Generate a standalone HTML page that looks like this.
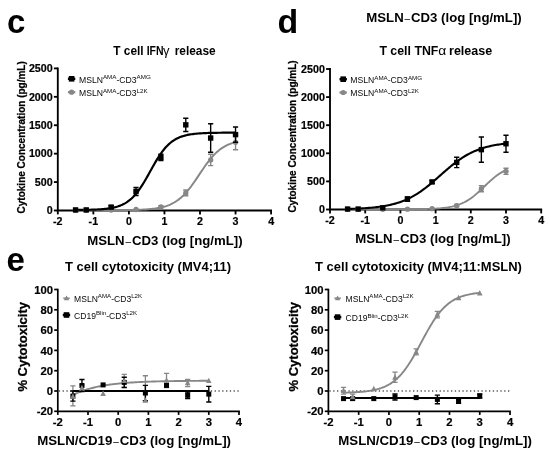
<!DOCTYPE html>
<html><head><meta charset="utf-8"><title>Figure</title>
<style>html,body{margin:0;padding:0;background:#fff}svg{display:block}text{font-family:"Liberation Sans",sans-serif}</style></head>
<body>
<svg width="550" height="454" viewBox="0 0 550 454">
<rect width="550" height="454" fill="#fff"/>
<text x="6.9" y="33.4" font-size="33" font-weight="bold" >c</text>
<text transform="translate(277.5,33.4) scale(1.04,1)" font-size="32.6" font-weight="bold" >d</text>
<text x="6.4" y="271.2" font-size="33" font-weight="bold" >e</text>
<path d="M57.80 68.40V210.50H271.10" stroke="#000" stroke-width="1.85" fill="none" stroke-linecap="square"/>
<path d="M57.80 210.50v3.90" stroke="#000" stroke-width="1.85"/>
<text transform="translate(57.80,224.50) scale(1,1.000)" text-anchor="middle" font-size="10.70" font-weight="bold" stroke="#000" stroke-width="0.2" >-2</text>
<path d="M93.35 210.50v3.90" stroke="#000" stroke-width="1.85"/>
<text transform="translate(93.35,224.50) scale(1,1.000)" text-anchor="middle" font-size="10.70" font-weight="bold" stroke="#000" stroke-width="0.2" >-1</text>
<path d="M128.90 210.50v3.90" stroke="#000" stroke-width="1.85"/>
<text transform="translate(128.90,224.50) scale(1,1.000)" text-anchor="middle" font-size="10.70" font-weight="bold" stroke="#000" stroke-width="0.2" >0</text>
<path d="M164.45 210.50v3.90" stroke="#000" stroke-width="1.85"/>
<text transform="translate(164.45,224.50) scale(1,1.000)" text-anchor="middle" font-size="10.70" font-weight="bold" stroke="#000" stroke-width="0.2" >1</text>
<path d="M200.00 210.50v3.90" stroke="#000" stroke-width="1.85"/>
<text transform="translate(200.00,224.50) scale(1,1.000)" text-anchor="middle" font-size="10.70" font-weight="bold" stroke="#000" stroke-width="0.2" >2</text>
<path d="M235.55 210.50v3.90" stroke="#000" stroke-width="1.85"/>
<text transform="translate(235.55,224.50) scale(1,1.000)" text-anchor="middle" font-size="10.70" font-weight="bold" stroke="#000" stroke-width="0.2" >3</text>
<path d="M271.10 210.50v3.90" stroke="#000" stroke-width="1.85"/>
<text transform="translate(271.10,224.50) scale(1,1.000)" text-anchor="middle" font-size="10.70" font-weight="bold" stroke="#000" stroke-width="0.2" >4</text>
<path d="M57.80 210.50h-3.90" stroke="#000" stroke-width="1.85"/>
<text transform="translate(52.70,214.33) scale(1,1.000)" text-anchor="end" font-size="10.70" font-weight="bold" stroke="#000" stroke-width="0.2" >0</text>
<path d="M57.80 182.08h-3.90" stroke="#000" stroke-width="1.85"/>
<text transform="translate(52.70,185.91) scale(1,1.000)" text-anchor="end" font-size="10.70" font-weight="bold" stroke="#000" stroke-width="0.2" >500</text>
<path d="M57.80 153.66h-3.90" stroke="#000" stroke-width="1.85"/>
<text transform="translate(52.70,157.49) scale(1,1.000)" text-anchor="end" font-size="10.70" font-weight="bold" stroke="#000" stroke-width="0.2" >1000</text>
<path d="M57.80 125.24h-3.90" stroke="#000" stroke-width="1.85"/>
<text transform="translate(52.70,129.07) scale(1,1.000)" text-anchor="end" font-size="10.70" font-weight="bold" stroke="#000" stroke-width="0.2" >1500</text>
<path d="M57.80 96.82h-3.90" stroke="#000" stroke-width="1.85"/>
<text transform="translate(52.70,100.65) scale(1,1.000)" text-anchor="end" font-size="10.70" font-weight="bold" stroke="#000" stroke-width="0.2" >2000</text>
<path d="M57.80 68.40h-3.90" stroke="#000" stroke-width="1.85"/>
<text transform="translate(52.70,72.23) scale(1,1.000)" text-anchor="end" font-size="10.70" font-weight="bold" stroke="#000" stroke-width="0.2" >2500</text>
<text x="113.30" y="54.8" text-anchor="start" font-size="11.85" font-weight="bold">T cell</text>
<text x="146.70" y="54.8" text-anchor="start" font-size="11.85" font-weight="bold" textLength="16.90" lengthAdjust="spacingAndGlyphs">IFN</text>
<text x="163.00" y="54.8" text-anchor="start" font-size="12.50" textLength="6.50" lengthAdjust="spacingAndGlyphs">γ</text>
<text x="215.70" y="54.8" text-anchor="end" font-size="11.90" font-weight="bold">release</text>
<path d="M75.57,210.21 L76.91,210.21 L78.24,210.21 L79.57,210.21 L80.91,210.21 L82.24,210.21 L83.57,210.21 L84.91,210.21 L86.24,210.21 L87.57,210.21 L88.91,210.21 L90.24,210.21 L91.57,210.21 L92.91,210.21 L94.24,210.21 L95.57,210.20 L96.91,210.20 L98.24,210.20 L99.57,210.20 L100.90,210.20 L102.24,210.20 L103.57,210.19 L104.90,210.19 L106.24,210.19 L107.57,210.18 L108.90,210.18 L110.24,210.18 L111.57,210.17 L112.90,210.17 L114.24,210.16 L115.57,210.15 L116.90,210.15 L118.23,210.14 L119.57,210.13 L120.90,210.12 L122.23,210.11 L123.57,210.09 L124.90,210.08 L126.23,210.06 L127.57,210.05 L128.90,210.03 L130.23,210.00 L131.57,209.98 L132.90,209.95 L134.23,209.92 L135.57,209.88 L136.90,209.84 L138.23,209.80 L139.56,209.75 L140.90,209.70 L142.23,209.64 L143.56,209.57 L144.90,209.49 L146.23,209.41 L147.56,209.31 L148.90,209.21 L150.23,209.09 L151.56,208.96 L152.90,208.81 L154.23,208.65 L155.56,208.46 L156.90,208.26 L158.23,208.04 L159.56,207.79 L160.89,207.51 L162.23,207.20 L163.56,206.86 L164.89,206.48 L166.23,206.06 L167.56,205.60 L168.89,205.09 L170.23,204.53 L171.56,203.92 L172.89,203.24 L174.23,202.50 L175.56,201.70 L176.89,200.82 L178.23,199.87 L179.56,198.83 L180.89,197.72 L182.22,196.52 L183.56,195.23 L184.89,193.86 L186.22,192.40 L187.56,190.86 L188.89,189.24 L190.22,187.54 L191.56,185.77 L192.89,183.93 L194.22,182.04 L195.56,180.11 L196.89,178.14 L198.22,176.15 L199.56,174.15 L200.89,172.15 L202.22,170.17 L203.55,168.21 L204.89,166.29 L206.22,164.42 L207.55,162.62 L208.89,160.87 L210.22,159.20 L211.55,157.61 L212.89,156.10 L214.22,154.68 L215.55,153.34 L216.89,152.09 L218.22,150.92 L219.55,149.84 L220.89,148.84 L222.22,147.92 L223.55,147.07 L224.88,146.29 L226.22,145.58 L227.55,144.93 L228.88,144.33 L230.22,143.79 L231.55,143.30 L232.88,142.86 L234.22,142.46 L235.55,142.10" stroke="#878787" stroke-width="1.95" fill="none"/>
<path d="M75.57,209.97 L76.91,209.96 L78.24,209.95 L79.57,209.94 L80.91,209.93 L82.24,209.91 L83.57,209.89 L84.91,209.87 L86.24,209.85 L87.57,209.82 L88.91,209.79 L90.24,209.76 L91.57,209.72 L92.91,209.68 L94.24,209.63 L95.57,209.58 L96.91,209.51 L98.24,209.44 L99.57,209.36 L100.90,209.28 L102.24,209.17 L103.57,209.06 L104.90,208.93 L106.24,208.79 L107.57,208.62 L108.90,208.44 L110.24,208.23 L111.57,208.00 L112.90,207.73 L114.24,207.44 L115.57,207.11 L116.90,206.74 L118.23,206.32 L119.57,205.85 L120.90,205.33 L122.23,204.75 L123.57,204.10 L124.90,203.38 L126.23,202.58 L127.57,201.70 L128.90,200.73 L130.23,199.66 L131.57,198.49 L132.90,197.22 L134.23,195.83 L135.57,194.33 L136.90,192.72 L138.23,190.99 L139.56,189.14 L140.90,187.19 L142.23,185.14 L143.56,183.00 L144.90,180.77 L146.23,178.47 L147.56,176.13 L148.90,173.74 L150.23,171.34 L151.56,168.93 L152.90,166.55 L154.23,164.20 L155.56,161.90 L156.90,159.68 L158.23,157.53 L159.56,155.48 L160.89,153.53 L162.23,151.69 L163.56,149.96 L164.89,148.34 L166.23,146.84 L167.56,145.46 L168.89,144.18 L170.23,143.01 L171.56,141.94 L172.89,140.97 L174.23,140.09 L175.56,139.29 L176.89,138.57 L178.23,137.93 L179.56,137.34 L180.89,136.82 L182.22,136.36 L183.56,135.94 L184.89,135.57 L186.22,135.24 L187.56,134.94 L188.89,134.68 L190.22,134.44 L191.56,134.24 L192.89,134.05 L194.22,133.89 L195.56,133.74 L196.89,133.61 L198.22,133.50 L199.56,133.40 L200.89,133.31 L202.22,133.23 L203.55,133.16 L204.89,133.10 L206.22,133.04 L207.55,133.00 L208.89,132.95 L210.22,132.92 L211.55,132.88 L212.89,132.85 L214.22,132.83 L215.55,132.80 L216.89,132.78 L218.22,132.77 L219.55,132.75 L220.89,132.74 L222.22,132.72 L223.55,132.71 L224.88,132.70 L226.22,132.69 L227.55,132.69 L228.88,132.68 L230.22,132.67 L231.55,132.67 L232.88,132.66 L234.22,132.66 L235.55,132.66" stroke="#000" stroke-width="2.20" fill="none"/>
<circle cx="75.57" cy="210.22" r="2.65" fill="#878787"/>
<circle cx="86.24" cy="210.22" r="2.65" fill="#878787"/>
<circle cx="111.12" cy="210.05" r="2.65" fill="#878787"/>
<circle cx="136.01" cy="209.48" r="2.65" fill="#878787"/>
<path d="M160.89 207.94V205.67M158.29 207.94h5.20M158.29 205.67h5.20" stroke="#878787" stroke-width="1.40" fill="none"/>
<circle cx="160.89" cy="206.81" r="2.65" fill="#878787"/>
<path d="M185.78 195.72V190.04M183.18 195.72h5.20M183.18 190.04h5.20" stroke="#878787" stroke-width="1.40" fill="none"/>
<circle cx="185.78" cy="192.88" r="2.65" fill="#878787"/>
<path d="M210.66 165.60V154.23M208.06 165.60h5.20M208.06 154.23h5.20" stroke="#878787" stroke-width="1.40" fill="none"/>
<circle cx="210.66" cy="159.91" r="2.65" fill="#878787"/>
<path d="M235.55 149.68V134.90M232.95 149.68h5.20M232.95 134.90h5.20" stroke="#878787" stroke-width="1.40" fill="none"/>
<circle cx="235.55" cy="142.29" r="2.65" fill="#878787"/>
<rect x="72.87" y="207.23" width="5.40" height="5.40" fill="#000"/>
<rect x="83.54" y="207.23" width="5.40" height="5.40" fill="#000"/>
<path d="M111.12 208.51V205.67M108.53 208.51h5.20M108.53 205.67h5.20" stroke="#000" stroke-width="1.40" fill="none"/>
<rect x="108.42" y="204.39" width="5.40" height="5.40" fill="#000"/>
<path d="M136.01 195.44V187.48M133.41 195.44h5.20M133.41 187.48h5.20" stroke="#000" stroke-width="1.40" fill="none"/>
<rect x="133.31" y="188.76" width="5.40" height="5.40" fill="#000"/>
<path d="M160.89 160.48V154.23M158.29 160.48h5.20M158.29 154.23h5.20" stroke="#000" stroke-width="1.40" fill="none"/>
<rect x="158.19" y="154.65" width="5.40" height="5.40" fill="#000"/>
<path d="M185.78 131.49V118.19M183.18 131.49h5.20M183.18 118.19h5.20" stroke="#000" stroke-width="1.40" fill="none"/>
<rect x="183.08" y="122.14" width="5.40" height="5.40" fill="#000"/>
<path d="M210.66 152.24V123.82M208.06 152.24h5.20M208.06 123.82h5.20" stroke="#000" stroke-width="1.40" fill="none"/>
<rect x="207.96" y="135.33" width="5.40" height="5.40" fill="#000"/>
<path d="M235.55 142.29V126.95M232.95 142.29h5.20M232.95 126.95h5.20" stroke="#000" stroke-width="1.40" fill="none"/>
<rect x="232.85" y="131.92" width="5.40" height="5.40" fill="#000"/>
<path d="M67.90 78.80h7.40" stroke="#000" stroke-width="2.4"/>
<rect x="68.80" y="76.00" width="5.60" height="5.60" fill="#000"/>
<text x="79.00" y="82.50" font-size="8.65" fill="#0a0a0a" >MSLN<tspan font-size="6.23" dy="-3.4">AMA</tspan><tspan dy="3.4">-CD3</tspan><tspan font-size="6.23" dy="-3.4">AMG</tspan></text>
<path d="M67.90 92.20h7.40" stroke="#878787" stroke-width="2.2"/>
<circle cx="71.60" cy="92.20" r="2.60" fill="#878787"/>
<text x="79.00" y="95.90" font-size="8.65" fill="#0a0a0a" >MSLN<tspan font-size="6.23" dy="-3.4">AMA</tspan><tspan dy="3.4">-CD3</tspan><tspan font-size="6.23" dy="-3.4">L2K</tspan></text>
<path d="M330.00 69.00V209.50H541.20" stroke="#000" stroke-width="1.85" fill="none" stroke-linecap="square"/>
<path d="M330.00 209.50v3.90" stroke="#000" stroke-width="1.85"/>
<text transform="translate(330.00,223.50) scale(1,1.000)" text-anchor="middle" font-size="10.70" font-weight="bold" stroke="#000" stroke-width="0.2" >-2</text>
<path d="M365.20 209.50v3.90" stroke="#000" stroke-width="1.85"/>
<text transform="translate(365.20,223.50) scale(1,1.000)" text-anchor="middle" font-size="10.70" font-weight="bold" stroke="#000" stroke-width="0.2" >-1</text>
<path d="M400.40 209.50v3.90" stroke="#000" stroke-width="1.85"/>
<text transform="translate(400.40,223.50) scale(1,1.000)" text-anchor="middle" font-size="10.70" font-weight="bold" stroke="#000" stroke-width="0.2" >0</text>
<path d="M435.60 209.50v3.90" stroke="#000" stroke-width="1.85"/>
<text transform="translate(435.60,223.50) scale(1,1.000)" text-anchor="middle" font-size="10.70" font-weight="bold" stroke="#000" stroke-width="0.2" >1</text>
<path d="M470.80 209.50v3.90" stroke="#000" stroke-width="1.85"/>
<text transform="translate(470.80,223.50) scale(1,1.000)" text-anchor="middle" font-size="10.70" font-weight="bold" stroke="#000" stroke-width="0.2" >2</text>
<path d="M506.00 209.50v3.90" stroke="#000" stroke-width="1.85"/>
<text transform="translate(506.00,223.50) scale(1,1.000)" text-anchor="middle" font-size="10.70" font-weight="bold" stroke="#000" stroke-width="0.2" >3</text>
<path d="M541.20 209.50v3.90" stroke="#000" stroke-width="1.85"/>
<text transform="translate(541.20,223.50) scale(1,1.000)" text-anchor="middle" font-size="10.70" font-weight="bold" stroke="#000" stroke-width="0.2" >4</text>
<path d="M330.00 209.50h-3.90" stroke="#000" stroke-width="1.85"/>
<text transform="translate(324.90,213.33) scale(1,1.000)" text-anchor="end" font-size="10.70" font-weight="bold" stroke="#000" stroke-width="0.2" >0</text>
<path d="M330.00 181.40h-3.90" stroke="#000" stroke-width="1.85"/>
<text transform="translate(324.90,185.23) scale(1,1.000)" text-anchor="end" font-size="10.70" font-weight="bold" stroke="#000" stroke-width="0.2" >500</text>
<path d="M330.00 153.30h-3.90" stroke="#000" stroke-width="1.85"/>
<text transform="translate(324.90,157.13) scale(1,1.000)" text-anchor="end" font-size="10.70" font-weight="bold" stroke="#000" stroke-width="0.2" >1000</text>
<path d="M330.00 125.20h-3.90" stroke="#000" stroke-width="1.85"/>
<text transform="translate(324.90,129.03) scale(1,1.000)" text-anchor="end" font-size="10.70" font-weight="bold" stroke="#000" stroke-width="0.2" >1500</text>
<path d="M330.00 97.10h-3.90" stroke="#000" stroke-width="1.85"/>
<text transform="translate(324.90,100.93) scale(1,1.000)" text-anchor="end" font-size="10.70" font-weight="bold" stroke="#000" stroke-width="0.2" >2000</text>
<path d="M330.00 69.00h-3.90" stroke="#000" stroke-width="1.85"/>
<text transform="translate(324.90,72.83) scale(1,1.000)" text-anchor="end" font-size="10.70" font-weight="bold" stroke="#000" stroke-width="0.2" >2500</text>
<text x="438.40" y="54.8" text-anchor="end" font-size="11.90" font-weight="bold" textLength="59.00" lengthAdjust="spacingAndGlyphs">T cell TNF</text>
<text x="438.20" y="54.8" text-anchor="start" font-size="13.50" textLength="8.00" lengthAdjust="spacingAndGlyphs">α</text>
<text x="492.20" y="54.8" text-anchor="end" font-size="11.90" font-weight="bold" textLength="43.20" lengthAdjust="spacingAndGlyphs">release</text>
<path d="M347.60,209.33 L348.92,209.33 L350.24,209.33 L351.56,209.33 L352.88,209.33 L354.20,209.33 L355.52,209.33 L356.84,209.33 L358.16,209.33 L359.48,209.33 L360.80,209.33 L362.12,209.33 L363.44,209.33 L364.76,209.33 L366.08,209.33 L367.40,209.33 L368.72,209.33 L370.04,209.33 L371.36,209.33 L372.68,209.33 L374.00,209.33 L375.32,209.33 L376.64,209.33 L377.96,209.33 L379.28,209.33 L380.60,209.32 L381.92,209.32 L383.24,209.32 L384.56,209.32 L385.88,209.32 L387.20,209.32 L388.52,209.32 L389.84,209.32 L391.16,209.31 L392.48,209.31 L393.80,209.31 L395.12,209.31 L396.44,209.31 L397.76,209.30 L399.08,209.30 L400.40,209.29 L401.72,209.29 L403.04,209.29 L404.36,209.28 L405.68,209.27 L407.00,209.27 L408.32,209.26 L409.64,209.25 L410.96,209.24 L412.28,209.23 L413.60,209.22 L414.92,209.21 L416.24,209.19 L417.56,209.17 L418.88,209.16 L420.20,209.14 L421.52,209.11 L422.84,209.09 L424.16,209.06 L425.48,209.03 L426.80,208.99 L428.12,208.95 L429.44,208.90 L430.76,208.85 L432.08,208.80 L433.40,208.73 L434.72,208.67 L436.04,208.59 L437.36,208.50 L438.68,208.40 L440.00,208.30 L441.32,208.18 L442.64,208.04 L443.96,207.89 L445.28,207.73 L446.60,207.55 L447.92,207.34 L449.24,207.12 L450.56,206.87 L451.88,206.60 L453.20,206.29 L454.52,205.96 L455.84,205.59 L457.16,205.19 L458.48,204.75 L459.80,204.26 L461.12,203.73 L462.44,203.16 L463.76,202.54 L465.08,201.86 L466.40,201.14 L467.72,200.36 L469.04,199.52 L470.36,198.63 L471.68,197.68 L473.00,196.69 L474.32,195.64 L475.64,194.54 L476.96,193.40 L478.28,192.22 L479.60,191.01 L480.92,189.77 L482.24,188.52 L483.56,187.25 L484.88,185.98 L486.20,184.71 L487.52,183.45 L488.84,182.22 L490.16,181.01 L491.48,179.83 L492.80,178.69 L494.12,177.60 L495.44,176.55 L496.76,175.56 L498.08,174.62 L499.40,173.73 L500.72,172.90 L502.04,172.12 L503.36,171.40 L504.68,170.73 L506.00,170.11" stroke="#878787" stroke-width="1.85" fill="none"/>
<path d="M347.60,208.97 L348.92,208.93 L350.24,208.89 L351.56,208.85 L352.88,208.80 L354.20,208.75 L355.52,208.70 L356.84,208.64 L358.16,208.58 L359.48,208.52 L360.80,208.45 L362.12,208.37 L363.44,208.30 L364.76,208.21 L366.08,208.12 L367.40,208.02 L368.72,207.92 L370.04,207.81 L371.36,207.69 L372.68,207.57 L374.00,207.43 L375.32,207.29 L376.64,207.14 L377.96,206.98 L379.28,206.80 L380.60,206.62 L381.92,206.42 L383.24,206.21 L384.56,205.99 L385.88,205.75 L387.20,205.50 L388.52,205.23 L389.84,204.95 L391.16,204.64 L392.48,204.32 L393.80,203.98 L395.12,203.62 L396.44,203.24 L397.76,202.84 L399.08,202.41 L400.40,201.96 L401.72,201.48 L403.04,200.98 L404.36,200.45 L405.68,199.90 L407.00,199.31 L408.32,198.70 L409.64,198.06 L410.96,197.39 L412.28,196.68 L413.60,195.95 L414.92,195.18 L416.24,194.39 L417.56,193.56 L418.88,192.70 L420.20,191.81 L421.52,190.89 L422.84,189.94 L424.16,188.97 L425.48,187.97 L426.80,186.94 L428.12,185.88 L429.44,184.81 L430.76,183.71 L432.08,182.60 L433.40,181.46 L434.72,180.32 L436.04,179.16 L437.36,178.00 L438.68,176.83 L440.00,175.66 L441.32,174.48 L442.64,173.31 L443.96,172.14 L445.28,170.98 L446.60,169.84 L447.92,168.70 L449.24,167.58 L450.56,166.48 L451.88,165.40 L453.20,164.34 L454.52,163.30 L455.84,162.29 L457.16,161.31 L458.48,160.36 L459.80,159.43 L461.12,158.53 L462.44,157.66 L463.76,156.83 L465.08,156.02 L466.40,155.25 L467.72,154.51 L469.04,153.80 L470.36,153.12 L471.68,152.47 L473.00,151.85 L474.32,151.25 L475.64,150.69 L476.96,150.16 L478.28,149.65 L479.60,149.16 L480.92,148.71 L482.24,148.27 L483.56,147.86 L484.88,147.48 L486.20,147.11 L487.52,146.76 L488.84,146.44 L490.16,146.13 L491.48,145.84 L492.80,145.57 L494.12,145.31 L495.44,145.07 L496.76,144.84 L498.08,144.63 L499.40,144.43 L500.72,144.24 L502.04,144.07 L503.36,143.90 L504.68,143.75 L506.00,143.60" stroke="#000" stroke-width="2.10" fill="none"/>
<circle cx="347.60" cy="209.33" r="2.65" fill="#878787"/>
<circle cx="358.16" cy="209.33" r="2.65" fill="#878787"/>
<circle cx="382.80" cy="209.33" r="2.65" fill="#878787"/>
<circle cx="407.44" cy="209.22" r="2.65" fill="#878787"/>
<circle cx="432.08" cy="208.66" r="2.65" fill="#878787"/>
<path d="M456.72 206.69V204.44M454.12 206.69h5.20M454.12 204.44h5.20" stroke="#878787" stroke-width="1.40" fill="none"/>
<circle cx="456.72" cy="205.57" r="2.65" fill="#878787"/>
<path d="M481.36 191.80V185.62M478.76 191.80h5.20M478.76 185.62h5.20" stroke="#878787" stroke-width="1.40" fill="none"/>
<circle cx="481.36" cy="188.71" r="2.65" fill="#878787"/>
<path d="M506.00 174.38V168.19M503.40 174.38h5.20M503.40 168.19h5.20" stroke="#878787" stroke-width="1.40" fill="none"/>
<circle cx="506.00" cy="171.28" r="2.65" fill="#878787"/>
<rect x="344.90" y="206.35" width="5.40" height="5.40" fill="#000"/>
<rect x="355.46" y="206.35" width="5.40" height="5.40" fill="#000"/>
<rect x="380.10" y="205.11" width="5.40" height="5.40" fill="#000"/>
<path d="M407.44 201.35V196.85M404.84 201.35h5.20M404.84 196.85h5.20" stroke="#000" stroke-width="1.40" fill="none"/>
<rect x="404.74" y="196.40" width="5.40" height="5.40" fill="#000"/>
<path d="M432.08 183.37V180.56M429.48 183.37h5.20M429.48 180.56h5.20" stroke="#000" stroke-width="1.40" fill="none"/>
<rect x="429.38" y="179.26" width="5.40" height="5.40" fill="#000"/>
<path d="M456.72 167.63V157.18M454.12 167.63h5.20M454.12 157.18h5.20" stroke="#000" stroke-width="1.40" fill="none"/>
<rect x="454.02" y="159.70" width="5.40" height="5.40" fill="#000"/>
<path d="M481.36 162.29V137.00M478.76 162.29h5.20M478.76 137.00h5.20" stroke="#000" stroke-width="1.40" fill="none"/>
<rect x="478.66" y="146.95" width="5.40" height="5.40" fill="#000"/>
<path d="M506.00 152.18V135.32M503.40 152.18h5.20M503.40 135.32h5.20" stroke="#000" stroke-width="1.40" fill="none"/>
<rect x="503.30" y="141.05" width="5.40" height="5.40" fill="#000"/>
<path d="M339.50 79.20h7.40" stroke="#000" stroke-width="2.4"/>
<rect x="340.40" y="76.40" width="5.60" height="5.60" fill="#000"/>
<text x="350.30" y="82.90" font-size="8.65" fill="#0a0a0a" >MSLN<tspan font-size="6.23" dy="-3.4">AMA</tspan><tspan dy="3.4">-CD3</tspan><tspan font-size="6.23" dy="-3.4">AMG</tspan></text>
<path d="M339.50 92.50h7.40" stroke="#878787" stroke-width="2.2"/>
<circle cx="343.20" cy="92.50" r="2.60" fill="#878787"/>
<text x="350.30" y="96.20" font-size="8.65" fill="#0a0a0a" >MSLN<tspan font-size="6.23" dy="-3.4">AMA</tspan><tspan dy="3.4">-CD3</tspan><tspan font-size="6.23" dy="-3.4">L2K</tspan></text>
<text x="164.90" y="245.00" text-anchor="middle" font-size="13.20" font-weight="bold"  >MSLN<tspan font-weight="normal" font-size="10" dx="0.9" dy="0.2">–</tspan><tspan dx="0.9" dy="-0.2">CD3 (log [ng/mL])</tspan></text>
<text x="444.00" y="22.00" text-anchor="middle" font-size="13.20" font-weight="bold"  >MSLN<tspan font-weight="normal" font-size="10" dx="0.9" dy="0.2">–</tspan><tspan dx="0.9" dy="-0.2">CD3 (log [ng/mL])</tspan></text>
<text x="432.90" y="242.80" text-anchor="middle" font-size="13.20" font-weight="bold"  >MSLN<tspan font-weight="normal" font-size="10" dx="0.9" dy="0.2">–</tspan><tspan dx="0.9" dy="-0.2">CD3 (log [ng/mL])</tspan></text>
<text x="0.00" y="0.00" text-anchor="middle" font-size="10.00" font-weight="bold"  stroke="#000" stroke-width="0.25" transform="translate(25.0,137.3) rotate(-90)">Cytokine Concentration (pg/mL)</text>
<text x="0.00" y="0.00" text-anchor="middle" font-size="10.00" font-weight="bold"  stroke="#000" stroke-width="0.25" transform="translate(296.0,136.5) rotate(-90)">Cytokine Concentration (pg/mL)</text>
<path d="M57.80 289.50V411.30H239.00" stroke="#000" stroke-width="1.70" fill="none" stroke-linecap="square"/>
<path d="M57.80 411.30v3.60" stroke="#000" stroke-width="1.70"/>
<text transform="translate(57.80,425.90) scale(1,1.030)" text-anchor="middle" font-size="11.30" font-weight="bold" stroke="#000" stroke-width="0.2" >-2</text>
<path d="M88.00 411.30v3.60" stroke="#000" stroke-width="1.70"/>
<text transform="translate(88.00,425.90) scale(1,1.030)" text-anchor="middle" font-size="11.30" font-weight="bold" stroke="#000" stroke-width="0.2" >-1</text>
<path d="M118.20 411.30v3.60" stroke="#000" stroke-width="1.70"/>
<text transform="translate(118.20,425.90) scale(1,1.030)" text-anchor="middle" font-size="11.30" font-weight="bold" stroke="#000" stroke-width="0.2" >0</text>
<path d="M148.40 411.30v3.60" stroke="#000" stroke-width="1.70"/>
<text transform="translate(148.40,425.90) scale(1,1.030)" text-anchor="middle" font-size="11.30" font-weight="bold" stroke="#000" stroke-width="0.2" >1</text>
<path d="M178.60 411.30v3.60" stroke="#000" stroke-width="1.70"/>
<text transform="translate(178.60,425.90) scale(1,1.030)" text-anchor="middle" font-size="11.30" font-weight="bold" stroke="#000" stroke-width="0.2" >2</text>
<path d="M208.80 411.30v3.60" stroke="#000" stroke-width="1.70"/>
<text transform="translate(208.80,425.90) scale(1,1.030)" text-anchor="middle" font-size="11.30" font-weight="bold" stroke="#000" stroke-width="0.2" >3</text>
<path d="M239.00 411.30v3.60" stroke="#000" stroke-width="1.70"/>
<text transform="translate(239.00,425.90) scale(1,1.030)" text-anchor="middle" font-size="11.30" font-weight="bold" stroke="#000" stroke-width="0.2" >4</text>
<path d="M57.80 411.30h-3.60" stroke="#000" stroke-width="1.70"/>
<text transform="translate(53.00,415.47) scale(1,1.030)" text-anchor="end" font-size="11.30" font-weight="bold" stroke="#000" stroke-width="0.2" >-20</text>
<path d="M57.80 391.00h-3.60" stroke="#000" stroke-width="1.70"/>
<text transform="translate(53.00,395.17) scale(1,1.030)" text-anchor="end" font-size="11.30" font-weight="bold" stroke="#000" stroke-width="0.2" >0</text>
<path d="M57.80 370.70h-3.60" stroke="#000" stroke-width="1.70"/>
<text transform="translate(53.00,374.87) scale(1,1.030)" text-anchor="end" font-size="11.30" font-weight="bold" stroke="#000" stroke-width="0.2" >20</text>
<path d="M57.80 350.40h-3.60" stroke="#000" stroke-width="1.70"/>
<text transform="translate(53.00,354.57) scale(1,1.030)" text-anchor="end" font-size="11.30" font-weight="bold" stroke="#000" stroke-width="0.2" >40</text>
<path d="M57.80 330.10h-3.60" stroke="#000" stroke-width="1.70"/>
<text transform="translate(53.00,334.27) scale(1,1.030)" text-anchor="end" font-size="11.30" font-weight="bold" stroke="#000" stroke-width="0.2" >60</text>
<path d="M57.80 309.80h-3.60" stroke="#000" stroke-width="1.70"/>
<text transform="translate(53.00,313.97) scale(1,1.030)" text-anchor="end" font-size="11.30" font-weight="bold" stroke="#000" stroke-width="0.2" >80</text>
<path d="M57.80 289.50h-3.60" stroke="#000" stroke-width="1.70"/>
<text transform="translate(53.00,293.67) scale(1,1.030)" text-anchor="end" font-size="11.30" font-weight="bold" stroke="#000" stroke-width="0.2" >100</text>
<path d="M58.80 391H239.00" stroke="#000" stroke-width="1.2" stroke-dasharray="1.3 2.5"/>
<text x="148.00" y="270.90" text-anchor="middle" font-size="13.00" font-weight="bold"  >T cell cytotoxicity (MV4;11)</text>
<path d="M72.90,395.06 L74.03,394.50 L75.16,393.97 L76.30,393.45 L77.43,392.95 L78.56,392.48 L79.69,392.02 L80.83,391.58 L81.96,391.16 L83.09,390.75 L84.22,390.36 L85.36,389.98 L86.49,389.62 L87.62,389.27 L88.75,388.94 L89.89,388.62 L91.02,388.31 L92.15,388.01 L93.28,387.73 L94.42,387.46 L95.55,387.19 L96.68,386.94 L97.81,386.69 L98.95,386.46 L100.08,386.24 L101.21,386.02 L102.34,385.81 L103.48,385.61 L104.61,385.42 L105.74,385.23 L106.88,385.06 L108.01,384.89 L109.14,384.72 L110.27,384.56 L111.41,384.41 L112.54,384.27 L113.67,384.13 L114.80,383.99 L115.94,383.86 L117.07,383.74 L118.20,383.62 L119.33,383.50 L120.47,383.39 L121.60,383.29 L122.73,383.18 L123.86,383.09 L125.00,382.99 L126.13,382.90 L127.26,382.81 L128.39,382.73 L129.52,382.65 L130.66,382.57 L131.79,382.50 L132.92,382.43 L134.06,382.36 L135.19,382.29 L136.32,382.23 L137.45,382.17 L138.58,382.11 L139.72,382.05 L140.85,382.00 L141.98,381.94 L143.12,381.89 L144.25,381.85 L145.38,381.80 L146.51,381.75 L147.64,381.71 L148.78,381.67 L149.91,381.63 L151.04,381.59 L152.18,381.56 L153.31,381.52 L154.44,381.49 L155.57,381.45 L156.70,381.42 L157.84,381.39 L158.97,381.36 L160.10,381.34 L161.23,381.31 L162.37,381.28 L163.50,381.26 L164.63,381.24 L165.76,381.21 L166.90,381.19 L168.03,381.17 L169.16,381.15 L170.30,381.13 L171.43,381.11 L172.56,381.09 L173.69,381.08 L174.82,381.06 L175.96,381.04 L177.09,381.03 L178.22,381.01 L179.36,381.00 L180.49,380.99 L181.62,380.97 L182.75,380.96 L183.88,380.95 L185.02,380.94 L186.15,380.93 L187.28,380.91 L188.42,380.90 L189.55,380.89 L190.68,380.88 L191.81,380.88 L192.94,380.87 L194.08,380.86 L195.21,380.85 L196.34,380.84 L197.47,380.83 L198.61,380.83 L199.74,380.82 L200.87,380.81 L202.00,380.81 L203.14,380.80 L204.27,380.79 L205.40,380.79 L206.53,380.78 L207.67,380.78 L208.80,380.77" stroke="#878787" stroke-width="1.9" fill="none"/>
<path d="M72.90 391.00H208.80" stroke="#000" stroke-width="2.0"/>
<path d="M72.90 405.92V385.93M70.30 405.92h5.20M70.30 385.93h5.20" stroke="#878787" stroke-width="1.30" fill="none"/>
<path d="M81.96 391.00V384.91M79.36 391.00h5.20M79.36 384.91h5.20" stroke="#878787" stroke-width="1.30" fill="none"/>
<path d="M124.24 387.45V374.35M121.64 387.45h5.20M121.64 374.35h5.20" stroke="#878787" stroke-width="1.30" fill="none"/>
<path d="M145.38 401.15V375.77M142.78 401.15h5.20M142.78 375.77h5.20" stroke="#878787" stroke-width="1.30" fill="none"/>
<path d="M166.52 387.65V373.44M163.92 387.65h5.20M163.92 373.44h5.20" stroke="#878787" stroke-width="1.30" fill="none"/>
<path d="M187.66 386.53V379.43M185.06 386.53h5.20M185.06 379.43h5.20" stroke="#878787" stroke-width="1.30" fill="none"/>
<path d="M72.90 401.15V391.00M70.30 401.15h5.20M70.30 391.00h5.20" stroke="#000" stroke-width="1.40" fill="none"/>
<rect x="70.40" y="393.57" width="5.00" height="5.00" fill="#000"/>
<path d="M81.96 391.61V379.43M79.36 391.61h5.20M79.36 379.43h5.20" stroke="#000" stroke-width="1.40" fill="none"/>
<rect x="79.46" y="383.02" width="5.00" height="5.00" fill="#000"/>
<rect x="100.60" y="382.41" width="5.00" height="5.00" fill="#000"/>
<path d="M124.24 387.45V377.30M121.64 387.45h5.20M121.64 377.30h5.20" stroke="#000" stroke-width="1.40" fill="none"/>
<rect x="121.74" y="379.87" width="5.00" height="5.00" fill="#000"/>
<path d="M145.38 400.64V385.42M142.78 400.64h5.20M142.78 385.42h5.20" stroke="#000" stroke-width="1.40" fill="none"/>
<rect x="142.88" y="390.53" width="5.00" height="5.00" fill="#000"/>
<rect x="164.02" y="382.92" width="5.00" height="5.00" fill="#000"/>
<path d="M187.66 398.51V392.01M185.06 398.51h5.20M185.06 392.01h5.20" stroke="#000" stroke-width="1.40" fill="none"/>
<rect x="185.16" y="392.76" width="5.00" height="5.00" fill="#000"/>
<path d="M208.80 401.96V386.33M206.20 401.96h5.20M206.20 386.33h5.20" stroke="#000" stroke-width="1.40" fill="none"/>
<rect x="206.30" y="391.65" width="5.00" height="5.00" fill="#000"/>
<path d="M72.90 393.36L75.70 398.82L70.10 398.82Z" fill="#878787"/>
<path d="M81.96 384.73L84.76 390.19L79.16 390.19Z" fill="#878787"/>
<path d="M103.10 390.42L105.90 395.88L100.30 395.88Z" fill="#878787"/>
<path d="M124.24 377.63L127.04 383.09L121.44 383.09Z" fill="#878787"/>
<path d="M145.38 397.22L148.18 402.68L142.58 402.68Z" fill="#878787"/>
<path d="M166.52 377.33L169.32 382.79L163.72 382.79Z" fill="#878787"/>
<path d="M187.66 379.76L190.46 385.22L184.86 385.22Z" fill="#878787"/>
<path d="M208.80 377.63L211.60 383.09L206.00 383.09Z" fill="#878787"/>
<path d="M63.20 298.20h6.60" stroke="#878787" stroke-width="1.4"/>
<path d="M66.50 295.50L69.20 300.30L63.80 300.30Z" fill="#878787"/>
<text x="74.10" y="301.50" font-size="8.55" fill="#0a0a0a" >MSLN<tspan font-size="6.16" dy="-3.4">AMA</tspan><tspan dy="3.4">-CD3</tspan><tspan font-size="6.16" dy="-3.4">L2K</tspan></text>
<path d="M62.80 315.00h7.40" stroke="#000" stroke-width="2.4"/>
<rect x="63.70" y="312.20" width="5.60" height="5.60" fill="#000"/>
<text x="74.10" y="318.80" font-size="8.55" fill="#0a0a0a" >CD19<tspan font-size="6.16" dy="-3.4">Blin</tspan><tspan dy="3.4">-CD3</tspan><tspan font-size="6.16" dy="-3.4">L2K</tspan></text>
<text x="134.10" y="444.50" text-anchor="middle" font-size="13.27" font-weight="bold"  >MSLN/CD19<tspan font-weight="normal" font-size="10" dx="0.9" dy="0.2">–</tspan><tspan dx="0.9" dy="-0.2">CD3 (log [ng/mL])</tspan></text>
<path d="M328.40 289.50V411.30H510.02" stroke="#000" stroke-width="1.70" fill="none" stroke-linecap="square"/>
<path d="M328.40 411.30v3.60" stroke="#000" stroke-width="1.70"/>
<text transform="translate(328.40,425.90) scale(1,1.030)" text-anchor="middle" font-size="11.30" font-weight="bold" stroke="#000" stroke-width="0.2" >-2</text>
<path d="M358.67 411.30v3.60" stroke="#000" stroke-width="1.70"/>
<text transform="translate(358.67,425.90) scale(1,1.030)" text-anchor="middle" font-size="11.30" font-weight="bold" stroke="#000" stroke-width="0.2" >-1</text>
<path d="M388.94 411.30v3.60" stroke="#000" stroke-width="1.70"/>
<text transform="translate(388.94,425.90) scale(1,1.030)" text-anchor="middle" font-size="11.30" font-weight="bold" stroke="#000" stroke-width="0.2" >0</text>
<path d="M419.21 411.30v3.60" stroke="#000" stroke-width="1.70"/>
<text transform="translate(419.21,425.90) scale(1,1.030)" text-anchor="middle" font-size="11.30" font-weight="bold" stroke="#000" stroke-width="0.2" >1</text>
<path d="M449.48 411.30v3.60" stroke="#000" stroke-width="1.70"/>
<text transform="translate(449.48,425.90) scale(1,1.030)" text-anchor="middle" font-size="11.30" font-weight="bold" stroke="#000" stroke-width="0.2" >2</text>
<path d="M479.75 411.30v3.60" stroke="#000" stroke-width="1.70"/>
<text transform="translate(479.75,425.90) scale(1,1.030)" text-anchor="middle" font-size="11.30" font-weight="bold" stroke="#000" stroke-width="0.2" >3</text>
<path d="M510.02 411.30v3.60" stroke="#000" stroke-width="1.70"/>
<text transform="translate(510.02,425.90) scale(1,1.030)" text-anchor="middle" font-size="11.30" font-weight="bold" stroke="#000" stroke-width="0.2" >4</text>
<path d="M328.40 411.30h-3.60" stroke="#000" stroke-width="1.70"/>
<text transform="translate(323.60,415.47) scale(1,1.030)" text-anchor="end" font-size="11.30" font-weight="bold" stroke="#000" stroke-width="0.2" >-20</text>
<path d="M328.40 391.00h-3.60" stroke="#000" stroke-width="1.70"/>
<text transform="translate(323.60,395.17) scale(1,1.030)" text-anchor="end" font-size="11.30" font-weight="bold" stroke="#000" stroke-width="0.2" >0</text>
<path d="M328.40 370.70h-3.60" stroke="#000" stroke-width="1.70"/>
<text transform="translate(323.60,374.87) scale(1,1.030)" text-anchor="end" font-size="11.30" font-weight="bold" stroke="#000" stroke-width="0.2" >20</text>
<path d="M328.40 350.40h-3.60" stroke="#000" stroke-width="1.70"/>
<text transform="translate(323.60,354.57) scale(1,1.030)" text-anchor="end" font-size="11.30" font-weight="bold" stroke="#000" stroke-width="0.2" >40</text>
<path d="M328.40 330.10h-3.60" stroke="#000" stroke-width="1.70"/>
<text transform="translate(323.60,334.27) scale(1,1.030)" text-anchor="end" font-size="11.30" font-weight="bold" stroke="#000" stroke-width="0.2" >60</text>
<path d="M328.40 309.80h-3.60" stroke="#000" stroke-width="1.70"/>
<text transform="translate(323.60,313.97) scale(1,1.030)" text-anchor="end" font-size="11.30" font-weight="bold" stroke="#000" stroke-width="0.2" >80</text>
<path d="M328.40 289.50h-3.60" stroke="#000" stroke-width="1.70"/>
<text transform="translate(323.60,293.67) scale(1,1.030)" text-anchor="end" font-size="11.30" font-weight="bold" stroke="#000" stroke-width="0.2" >100</text>
<path d="M329.40 391H510.02" stroke="#000" stroke-width="1.2" stroke-dasharray="1.3 2.5"/>
<text x="418.50" y="270.90" text-anchor="middle" font-size="12.98" font-weight="bold"  >T cell cytotoxicity (MV4;11:MSLN)</text>
<path d="M343.53,392.70 L344.67,392.68 L345.81,392.65 L346.94,392.61 L348.08,392.58 L349.21,392.54 L350.35,392.49 L351.48,392.45 L352.62,392.40 L353.75,392.34 L354.89,392.28 L356.02,392.22 L357.16,392.15 L358.29,392.07 L359.43,391.99 L360.56,391.90 L361.70,391.80 L362.83,391.69 L363.97,391.58 L365.10,391.45 L366.24,391.32 L367.37,391.17 L368.51,391.01 L369.64,390.84 L370.78,390.65 L371.91,390.45 L373.05,390.23 L374.18,389.99 L375.32,389.74 L376.45,389.46 L377.59,389.16 L378.72,388.83 L379.86,388.48 L380.99,388.11 L382.13,387.70 L383.26,387.26 L384.40,386.79 L385.53,386.28 L386.67,385.73 L387.80,385.14 L388.94,384.51 L390.08,383.83 L391.21,383.11 L392.35,382.33 L393.48,381.50 L394.62,380.62 L395.75,379.68 L396.89,378.68 L398.02,377.61 L399.16,376.49 L400.29,375.29 L401.43,374.03 L402.56,372.71 L403.70,371.31 L404.83,369.85 L405.97,368.31 L407.10,366.71 L408.24,365.05 L409.37,363.32 L410.51,361.53 L411.64,359.68 L412.78,357.78 L413.91,355.83 L415.05,353.83 L416.18,351.80 L417.32,349.74 L418.45,347.64 L419.59,345.53 L420.72,343.41 L421.86,341.29 L422.99,339.17 L424.13,337.06 L425.26,334.96 L426.40,332.90 L427.53,330.86 L428.67,328.86 L429.80,326.91 L430.94,325.00 L432.07,323.15 L433.21,321.36 L434.34,319.62 L435.48,317.96 L436.62,316.35 L437.75,314.81 L438.89,313.35 L440.02,311.95 L441.16,310.61 L442.29,309.35 L443.43,308.15 L444.56,307.02 L445.70,305.95 L446.83,304.95 L447.97,304.00 L449.10,303.11 L450.24,302.28 L451.37,301.50 L452.51,300.77 L453.64,300.09 L454.78,299.46 L455.91,298.87 L457.05,298.32 L458.18,297.81 L459.32,297.33 L460.45,296.89 L461.59,296.48 L462.72,296.10 L463.86,295.75 L464.99,295.42 L466.13,295.12 L467.26,294.84 L468.40,294.58 L469.53,294.35 L470.67,294.12 L471.80,293.92 L472.94,293.73 L474.07,293.56 L475.21,293.40 L476.34,293.25 L477.48,293.12 L478.61,292.99 L479.75,292.87" stroke="#878787" stroke-width="1.9" fill="none"/>
<path d="M343.53 398.11H479.75" stroke="#000" stroke-width="2.0"/>
<path d="M343.53 394.05V387.35M340.93 394.05h5.20M340.93 387.35h5.20" stroke="#878787" stroke-width="1.30" fill="none"/>
<path d="M352.62 400.13V394.05M350.02 400.13h5.20M350.02 394.05h5.20" stroke="#878787" stroke-width="1.30" fill="none"/>
<path d="M394.99 382.37V372.22M392.39 382.37h5.20M392.39 372.22h5.20" stroke="#878787" stroke-width="1.30" fill="none"/>
<path d="M416.18 354.97V348.88M413.58 354.97h5.20M413.58 348.88h5.20" stroke="#878787" stroke-width="1.30" fill="none"/>
<path d="M437.37 317.92V311.32M434.77 317.92h5.20M434.77 311.32h5.20" stroke="#878787" stroke-width="1.30" fill="none"/>
<rect x="341.03" y="396.11" width="5.00" height="5.00" fill="#000"/>
<rect x="350.12" y="396.11" width="5.00" height="5.00" fill="#000"/>
<rect x="371.30" y="396.11" width="5.00" height="5.00" fill="#000"/>
<path d="M394.99 400.13V394.05M392.39 400.13h5.20M392.39 394.05h5.20" stroke="#000" stroke-width="1.40" fill="none"/>
<rect x="392.49" y="394.59" width="5.00" height="5.00" fill="#000"/>
<rect x="413.68" y="395.10" width="5.00" height="5.00" fill="#000"/>
<path d="M437.37 403.69V395.16M434.77 403.69h5.20M434.77 395.16h5.20" stroke="#000" stroke-width="1.40" fill="none"/>
<rect x="434.87" y="396.92" width="5.00" height="5.00" fill="#000"/>
<path d="M458.56 403.18V399.12M455.96 403.18h5.20M455.96 399.12h5.20" stroke="#000" stroke-width="1.40" fill="none"/>
<rect x="456.06" y="398.65" width="5.00" height="5.00" fill="#000"/>
<path d="M479.75 398.11V394.05M477.15 398.11h5.20M477.15 394.05h5.20" stroke="#000" stroke-width="1.40" fill="none"/>
<rect x="477.25" y="393.57" width="5.00" height="5.00" fill="#000"/>
<path d="M343.53 387.48L346.33 392.94L340.73 392.94Z" fill="#878787"/>
<path d="M352.62 393.87L355.42 399.33L349.82 399.33Z" fill="#878787"/>
<path d="M373.80 385.75L376.60 391.21L371.00 391.21Z" fill="#878787"/>
<path d="M394.99 374.28L397.79 379.74L392.19 379.74Z" fill="#878787"/>
<path d="M416.18 348.70L418.98 354.16L413.38 354.16Z" fill="#878787"/>
<path d="M437.37 311.35L440.17 316.81L434.57 316.81Z" fill="#878787"/>
<path d="M458.56 294.81L461.36 300.27L455.76 300.27Z" fill="#878787"/>
<path d="M479.75 289.93L482.55 295.39L476.95 295.39Z" fill="#878787"/>
<path d="M334.30 298.20h6.60" stroke="#878787" stroke-width="1.4"/>
<path d="M337.60 295.50L340.30 300.30L334.90 300.30Z" fill="#878787"/>
<text x="345.60" y="301.50" font-size="8.55" fill="#0a0a0a" >MSLN<tspan font-size="6.16" dy="-3.4">AMA</tspan><tspan dy="3.4">-CD3</tspan><tspan font-size="6.16" dy="-3.4">L2K</tspan></text>
<path d="M333.90 317.10h7.40" stroke="#000" stroke-width="2.4"/>
<rect x="334.80" y="314.30" width="5.60" height="5.60" fill="#000"/>
<text x="345.60" y="320.90" font-size="8.55" fill="#0a0a0a" >CD19<tspan font-size="6.16" dy="-3.4">Blin</tspan><tspan dy="3.4">-CD3</tspan><tspan font-size="6.16" dy="-3.4">L2K</tspan></text>
<text x="435.10" y="444.50" text-anchor="middle" font-size="13.25" font-weight="bold"  >MSLN/CD19<tspan font-weight="normal" font-size="10" dx="0.9" dy="0.2">–</tspan><tspan dx="0.9" dy="-0.2">CD3 (log [ng/mL])</tspan></text>
<text x="0.00" y="0.00" text-anchor="middle" font-size="13.00" font-weight="bold"  stroke="#000" stroke-width="0.3" transform="translate(27.0,346.8) rotate(-90)">% Cytotoxicity</text>
<text x="0.00" y="0.00" text-anchor="middle" font-size="13.00" font-weight="bold"  stroke="#000" stroke-width="0.3" transform="translate(297.9,346.7) rotate(-90)">% Cytotoxicity</text>
</svg>
</body></html>
